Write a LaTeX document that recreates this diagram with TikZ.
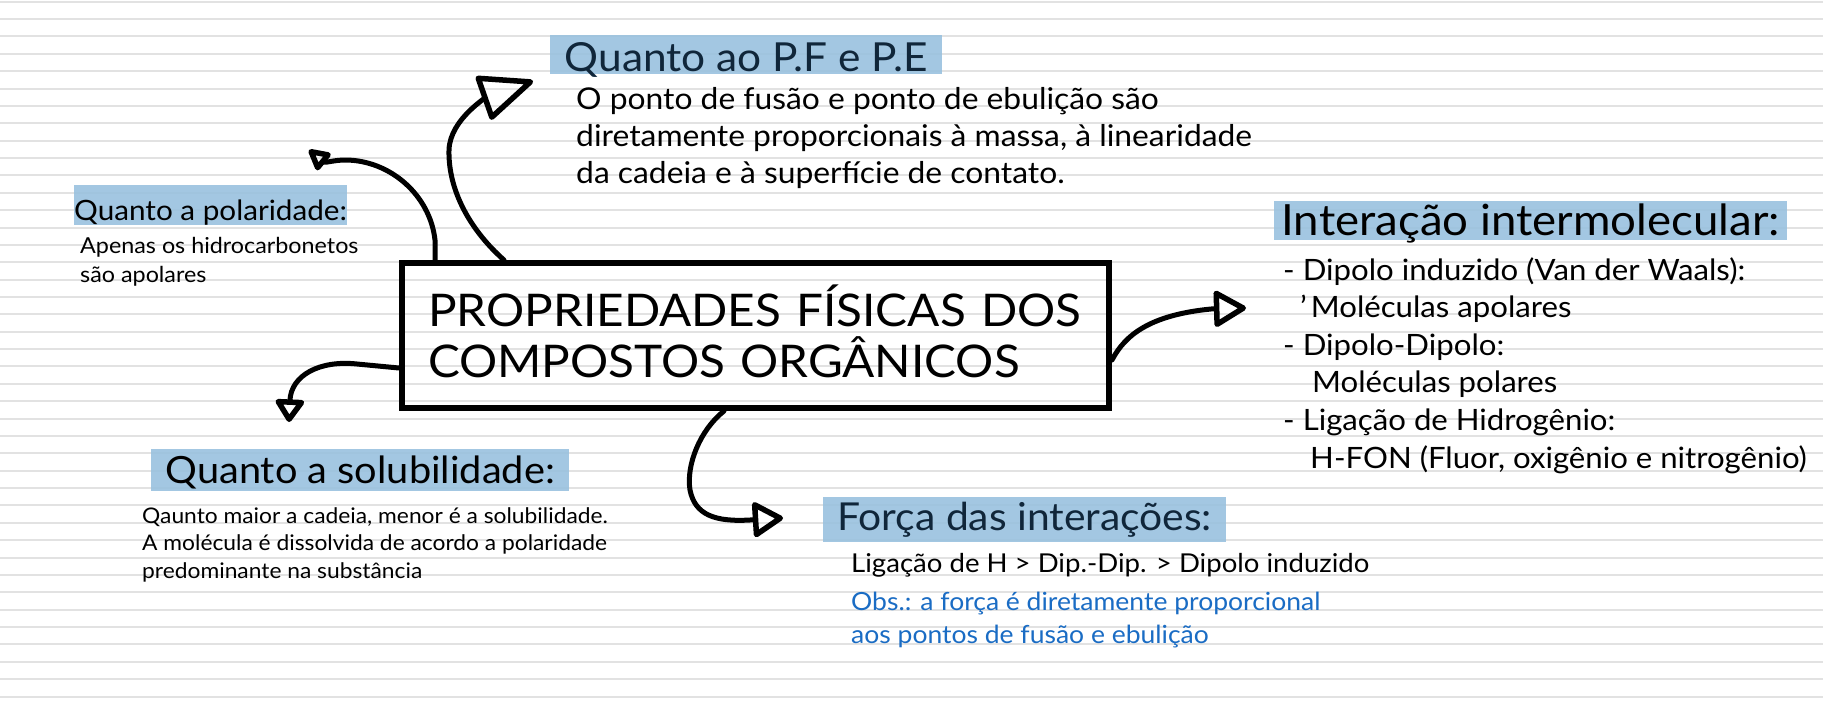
\documentclass[tikz,border=0pt]{standalone}
\usepackage{fontspec}
\setmainfont{Lato}[FakeStretch=1.06]
\usetikzlibrary{calc,arrows.meta}

\definecolor{hlblue}{HTML}{97C0DE}
\definecolor{ink}{HTML}{10263A}
\definecolor{obsblue}{HTML}{1A6CC4}
\definecolor{ruling}{HTML}{E2E2E2}

\begin{document}
\begin{tikzpicture}[x=1pt,y=-1pt,
  every node/.style={inner sep=0pt},
  title/.style={fill=hlblue, fill opacity=0.88, text opacity=1, anchor=base west, align=center},
  body/.style={anchor=base west, align=left},
  link/.style={line width=5pt, line cap=round, line join=round},
  arrowhd/.style n args={2}{-{Triangle[open,round,length=#1,width=#2,line width=5.5pt]}}]
	\useasboundingbox (0,0) rectangle (1823,701);
	\fill[white] (0,0) rectangle (1823,701);
	\foreach \k in {0,...,40}
		\draw[ruling, line width=2pt] (0,{1.7+17.37*\k}) -- (1823,{1.7+17.37*\k});
	%
	\node[draw, line width=6pt, minimum width=707pt, minimum height=145pt, text width=655pt, inner xsep=26pt,
		text height=32pt, text depth=51pt, align=left, anchor=north west,
		font=\fontsize{45}{51}\selectfont] (box) at (399,260) {PROPRIEDADES FÍSICAS DOS\\COMPOSTOS ORGÂNICOS};
	%
	% multi-line texts sit on the baseline of their last line
	\node[title, minimum width=392pt, text height=36pt, text depth=3pt, text=ink, font=\fontsize{40}{40}\selectfont] (pftitle) at (550,71) {Quanto ao P.F e P.E};
	\node[body, font=\fontsize{30}{36.7}\selectfont] (pftext) at (576,183) {O ponto de fusão e ponto de ebulição são\\diretamente proporcionais à massa, à linearidade\\da cadeia e à superfície de contato.};
	%
	\node[title, minimum width=266pt, text height=35pt, text depth=5pt, font=\fontsize{28}{28}\selectfont] (poltitle) at (74,220) {Quanto a polaridade:};
	\node[body, font=\fontsize{22}{29}\selectfont] (poltext) at (80,282) {Apenas os hidrocarbonetos\\são apolares};
	%
	\node[title, minimum width=513pt, text height=34pt, text depth=5pt, font=\fontsize{43}{43}\selectfont] (intertitle) at (1274,235) {Interação intermolecular:};
	\node[body, font=\fontsize{29.4}{37.6}\selectfont] (intertext) at (1283,468) {- Dipolo induzido (Van der Waals):\\\hspace*{17pt}'\hspace{4pt}Moléculas apolares\\- Dipolo-Dipolo:\\\hspace*{29pt}Moléculas polares\\- Ligação de Hidrogênio:\\\hspace*{27pt}H-FON (Fluor, oxigênio e nitrogênio)};
	%
	\node[title, minimum width=418pt, text height=34pt, text depth=8pt, font=\fontsize{37.5}{37.5}\selectfont] (soltitle) at (151,483) {Quanto a solubilidade:};
	\node[body, font=\fontsize{21.5}{27.5}\selectfont] (soltext) at (142,578) {Qaunto maior a cadeia, menor é a solubilidade.\\A molécula é dissolvida de acordo a polaridade\\predominante na substância};
	%
	\node[title, minimum width=403pt, text height=33pt, text depth=12pt, text=ink, font=\fontsize{38.5}{38.5}\selectfont] (forcatitle) at (823,530) {Força das interações:};
	\node[body, font=\fontsize{26}{33}\selectfont] (forcatext) at (851,572) {Ligação de H > Dip.-Dip. > Dipolo induzido};
	\node[body, text=obsblue, font=\fontsize{25}{33}\selectfont] (obstext) at (851,643) {Obs.: a força é diretamente proporcional\\aos pontos de fusão e ebulição};
	%
	\coordinate (pftip) at (533,81);
	\coordinate (poltip) at (309,150);
	\coordinate (soltip) at (289,422);
	\coordinate (intertip) at (1246,308);
	\coordinate (forcatip) at (783,518);
	%
	\draw[link, arrowhd={58pt}{48pt}] ($(box.north west)+(105,0)$) .. controls (470,230) and (448,190) .. (449,150) .. controls (450,118) and (490,96) .. (pftip);
	\draw[link, arrowhd={24pt}{24pt}] ($(box.north west)+(36,0)$) -- (435,240) .. controls (430,195) and (390,160) .. (345,160) .. controls (335,160) and (325,163) .. (poltip);
	\draw[link, arrowhd={25pt}{32pt}] ($(box.north west)+(0,108)$) -- (357,364) .. controls (320,360) and (291,375) .. (soltip);
	\draw[link, arrowhd={35pt}{39pt}] ($(box.north east)+(0,100)$) .. controls (1125,335) and (1150,315) .. (1211,309) -- (intertip);
	\draw[link, arrowhd={33pt}{38pt}] ($(box.south west)+(325,0)$) .. controls (700,430) and (686,465) .. (690,490) .. controls (695,515) and (715,522) .. (750,520) -- (forcatip);
\end{tikzpicture}
\end{document}
